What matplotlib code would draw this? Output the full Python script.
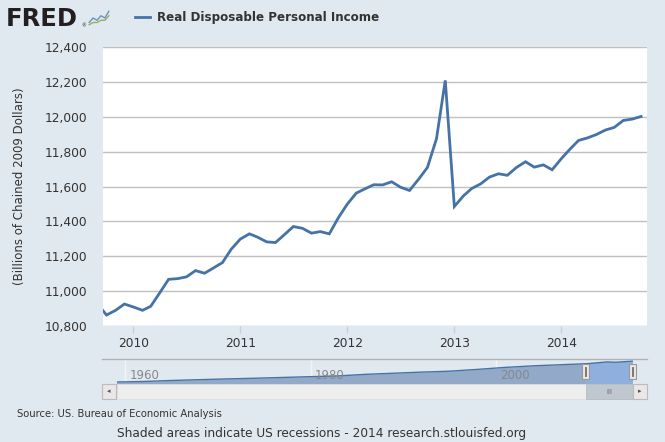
import matplotlib
matplotlib.use('Agg')
import matplotlib.pyplot as plt
from matplotlib.patches import Rectangle
import pandas as pd

# monthly series, Sep 2009 .. Oct 2014 (billions of chained 2009 dollars)
start_month = '2009-09-01'
income = [10925, 10863, 10890, 10926,
          10909, 10890, 10913, 10991, 11068, 11072, 11082, 11118, 11103, 11133, 11164, 11241,
          11299, 11329, 11310, 11283, 11279, 11325, 11371, 11361, 11333, 11342, 11329, 11419,
          11499, 11563, 11587, 11611, 11610, 11628, 11597, 11578, 11643, 11710, 11875, 12210,
          11486, 11547, 11589, 11616, 11655, 11674, 11665, 11710, 11743, 11712, 11725, 11697,
          11760, 11817, 11865, 11880, 11899, 11925, 11940, 11980, 11988, 12003]
yticks = [10800, 11000, 11200, 11400, 11600, 11800, 12000, 12200, 12400]
xtick_years = ['2010', '2011', '2012', '2013', '2014']

# navigator (whole history, rough annual values)
nav_years = [1959, 1962, 1965, 1968, 1971, 1974, 1977, 1980, 1983, 1986, 1989,
             1992, 1995, 1998, 2001, 2004, 2007, 2010, 2012, 2013, 2014.75]
nav_values = [2650, 2900, 3350, 3700, 4050, 4350, 4700, 5050, 5400, 6100, 6600,
              7100, 7500, 8300, 9200, 9900, 10400, 10900, 11650, 11500, 12000]
nav_labels = [1960, 1980, 2000]

# tiny logo icon
icon_x = [0, 1, 2, 3, 4, 5]
icon_blue = [2, 4, 3, 5, 4, 7]
icon_green = [1, 2, 2, 3, 3, 5]

W, H = 665, 442
BG = '#E1E9F0'
BLUE = '#4572A7'
TXT = '#333333'


def box(x0, y0, x1, y1):
    # pixel box (top-left origin) -> figure fraction rect
    return [x0 / W, 1 - y1 / H, (x1 - x0) / W, (y1 - y0) / H]


fig = plt.figure(figsize=(W / 100, H / 100), dpi=100, facecolor=BG)

# ---- main chart
dates = pd.date_range(start_month, periods=len(income), freq='MS')
ax = fig.add_axes(box(103, 47.3, 647, 326))
ax.set_facecolor('white')
ax.plot(dates, income, color=BLUE, lw=2, solid_joinstyle='miter')
ax.set_xlim(pd.Timestamp('2009-09-19'), pd.Timestamp('2014-10-21'))
ax.set_ylim(10800, 12400)
ax.set_yticks(yticks)
ax.set_yticklabels(['{:,}'.format(v) for v in yticks])
ax.grid(axis='y', color='#C0C0C0', lw=1)
ax.set_xticks([pd.Timestamp(y + '-01-01') for y in xtick_years])
ax.set_xticklabels(xtick_years)
for s in ax.spines.values():
    s.set_visible(False)
ax.tick_params(axis='y', length=0, pad=11, labelsize=8.8, labelcolor=TXT)
ax.tick_params(axis='x', length=5, width=1, color='#C0D0E0', pad=3,
               labelsize=8.8, labelcolor=TXT)
ax.set_ylabel('(Billions of Chained 2009 Dollars)', fontsize=8.5, color=TXT)
ax.yaxis.set_label_coords(-0.141, 0.5)

# ---- header
fig.text(6 / W, 1 - 19 / H, 'FRED', fontsize=17.5, fontweight='bold',
         color='#231F20', va='center')
fig.text(81 / W, 1 - 26 / H, '®', fontsize=3.5, color='#231F20', va='center')
iax = fig.add_axes(box(88, 9, 110, 27))
iax.set_facecolor('#EDEDED')
iax.plot(icon_x, icon_blue, color='#6E8FC0', lw=1)
iax.plot(icon_x, icon_green, color='#8FB06A', lw=1)
iax.set_xlim(-0.3, 5.3)
iax.set_ylim(0, 8)
iax.axis('off')
fig.add_artist(plt.Line2D([135 / W, 150 / W], [1 - 17 / H, 1 - 17 / H],
                          color=BLUE, lw=2))
fig.text(157 / W, 1 - 17 / H, 'Real Disposable Personal Income', fontsize=8.6,
         fontweight='bold', color=TXT, va='center')

# ---- navigator
fig.add_artist(plt.Line2D([102 / W, 647 / W], [1 - 358.7 / H] * 2,
                          color='#B2B1B6', lw=1))
nav = fig.add_axes(box(117, 359.2, 632.7, 383.7))
nav.set_facecolor('none')
nav.fill_between(nav_years, nav_values, 0, color='#93A9C8', lw=0)
sel = [v for v in nav_years if v >= 2009.7]
nav.fill_between([2009.7] + sel, [10850] + nav_values[-len(sel):], 0,
                 color='#8FB0DC', lw=0)
nav.plot(nav_years, nav_values, color=BLUE, lw=1)
nav.set_xlim(1959.1, 2014.8)
nav.set_ylim(1904, 12878)
for yr in nav_labels:
    nav.axvline(yr, color='#F2F5F8', lw=1, zorder=0)
    nav.text(yr + 0.5, 5400, str(yr), fontsize=8.5, color='#888888', va='center')
nav.axis('off')

# handles
for hx in (582, 629):
    fig.add_artist(Rectangle((hx / W, 1 - 379 / H), 7 / W, 15 / H,
                             facecolor='#EBE7E8', edgecolor='#999999', lw=0.8))
    for dx in (2.6, 4.4):
        fig.add_artist(plt.Line2D([(hx + dx) / W] * 2, [1 - 376 / H, 1 - 367 / H],
                                  color='#666666', lw=0.6))

# scrollbar
fig.add_artist(Rectangle((117 / W, 1 - 398.7 / H), (632.7 - 117) / W, 15 / H,
                         facecolor='#EEEEEE', edgecolor='#DDDDDD', lw=0.6))
fig.add_artist(Rectangle((586 / W, 1 - 398.7 / H), (632.7 - 586) / W, 15 / H,
                         facecolor='#BFC8D1', edgecolor='#BBBBBB', lw=0.6))
fig.text(609 / W, 1 - 391.5 / H, 'III', fontsize=5, color='#666666',
         ha='center', va='center')
for bx, arrow in ((102, '◂'), (632.7, '▸')):
    fig.add_artist(Rectangle((bx / W, 1 - 398.7 / H), 14.3 / W, 15 / H,
                             facecolor='#EBE7E8', edgecolor='#BBBBBB', lw=0.8))
    fig.text((bx + 7.2) / W, 1 - 391.3 / H, arrow, fontsize=5, color='#555555',
             ha='center', va='center')

# ---- footer
fig.text(17 / W, 1 - 414 / H, 'Source: US. Bureau of Economic Analysis',
         fontsize=7.2, color=TXT, va='center')
fig.text(117 / W, 1 - 433.5 / H,
         'Shaded areas indicate US recessions - 2014 research.stlouisfed.org',
         fontsize=8.7, color=TXT, va='center')

fig.savefig('out.png', dpi=100, facecolor=BG)
